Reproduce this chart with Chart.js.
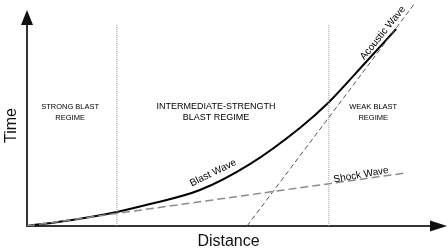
<!DOCTYPE html>
<html>
<head>
<meta charset="utf-8">
<script src="https://cdn.jsdelivr.net/npm/chart.js@4"></script>
<style>
  html, body { margin: 0; padding: 0; background: #fff; }
  #grafico { display: block; }
</style>
</head>
<body>
<canvas id="grafico" width="448" height="252"></canvas>
<script>
// dados (distancia 0-100, tempo 0-100)
var regimes = [["STRONG BLAST", "REGIME"], ["INTERMEDIATE-STRENGTH", "BLAST REGIME"], ["WEAK BLAST", "REGIME"]];
var limitesRegime = [22.3, 74.9];
var limiteTopo = 100;

var blastDistancia = [0, 11.2, 22.3, 30.5, 42.9, 55.3, 67.7, 74.7, 83.9, 91.6];
var blastTempo = [0, 3.0, 7.0, 10.9, 17.9, 30.8, 48.8, 61.2, 81.1, 98.0];

var shockDistancia = [0, 94.0];
var shockTempo = [0, 26.4];

var acousticDistancia = [54.6, 96.3];
var acousticTempo = [0, 111];

var nomesOndas = ["Blast Wave", "Shock Wave", "Acoustic Wave"];

function juntar(xs, ys) {
  var pontos = [];
  for (var i = 0; i < xs.length; i++) {
    pontos.push({ x: xs[i], y: ys[i] });
  }
  return pontos;
}

var fonte = "'Liberation Sans', Arial, sans-serif";

var datasets = [];
for (var i = 0; i < limitesRegime.length; i++) {
  datasets.push({
    data: juntar([limitesRegime[i], limitesRegime[i]], [0, limiteTopo]),
    borderColor: "#999999",
    borderWidth: 1,
    borderDash: [1, 1],
    pointRadius: 0
  });
}
datasets.push({
  label: nomesOndas[1],
  data: juntar(shockDistancia, shockTempo),
  borderColor: "#8c8c8c",
  borderWidth: 1.5,
  borderDash: [8, 4],
  pointRadius: 0
});
datasets.push({
  label: nomesOndas[2],
  data: juntar(acousticDistancia, acousticTempo),
  borderColor: "#555555",
  borderWidth: 1,
  borderDash: [5, 3],
  pointRadius: 0,
  clip: false
});
datasets.push({
  label: nomesOndas[0],
  data: juntar(blastDistancia, blastTempo),
  borderColor: "#000000",
  borderWidth: 2,
  cubicInterpolationMode: "monotone",
  pointRadius: 0
});

// setas dos eixos e textos da figura
var pluginTextos = {
  id: "textos",
  afterDraw: function (chart) {
    var ctx = chart.ctx;
    var a = chart.chartArea;
    var sx = chart.scales.x;
    var sy = chart.scales.y;

    ctx.save();
    ctx.fillStyle = "#111";
    ctx.beginPath();
    ctx.moveTo(a.right, a.bottom - 5.5);
    ctx.lineTo(a.right + 17, a.bottom);
    ctx.lineTo(a.right, a.bottom + 5.5);
    ctx.closePath();
    ctx.fill();
    ctx.beginPath();
    ctx.moveTo(a.left - 6, a.top);
    ctx.lineTo(a.left, a.top - 15);
    ctx.lineTo(a.left + 6, a.top);
    ctx.closePath();
    ctx.fill();

    // regimes
    var centros = [10.7, 46.9, 85.9];
    var tamanhos = [7.5, 9, 7.5];
    ctx.fillStyle = "#000";
    ctx.textAlign = "center";
    ctx.textBaseline = "middle";
    for (var i = 0; i < regimes.length; i++) {
      ctx.font = tamanhos[i] + "px " + fonte;
      var px = sx.getPixelForValue(centros[i]);
      var py = sy.getPixelForValue(56.5);
      ctx.fillText(regimes[i][0], px, py - 5.5);
      ctx.fillText(regimes[i][1], px, py + 5.5);
    }

    // nomes das ondas
    var posicoes = [
      { x: 46.2, y: 26.4, ang: -26 },
      { x: 82.9, y: 25.4, ang: -10 },
      { x: 88.3, y: 96.0, ang: -51 }
    ];
    ctx.font = "10px " + fonte;
    for (var j = 0; j < nomesOndas.length; j++) {
      ctx.save();
      ctx.translate(sx.getPixelForValue(posicoes[j].x), sy.getPixelForValue(posicoes[j].y));
      ctx.rotate(posicoes[j].ang * Math.PI / 180);
      ctx.fillText(nomesOndas[j], 0, 0);
      ctx.restore();
    }
    ctx.restore();
  }
};

var grafico = new Chart(document.getElementById("grafico").getContext("2d"), {
  type: "line",
  data: { datasets: datasets },
  options: {
    responsive: false,
    animation: false,
    devicePixelRatio: 1,
    layout: { padding: { left: 0, right: 18, top: 25, bottom: 0 } },
    plugins: { legend: { display: false }, tooltip: { enabled: false } },
    scales: {
      x: {
        type: "linear",
        min: 0,
        max: 100,
        grid: { display: false, drawTicks: false },
        ticks: { display: false },
        border: { display: true, color: "#333", width: 2 },
        title: { display: true, text: "Distance", color: "#111", font: { size: 16, family: fonte }, padding: { top: 5.8, bottom: 1 } }
      },
      y: {
        type: "linear",
        min: 0,
        max: 100,
        grid: { display: false, drawTicks: false },
        ticks: { display: false },
        border: { display: true, color: "#333", width: 2 },
        title: { display: true, text: "Time", color: "#111", font: { size: 16, family: fonte }, padding: { top: 2, bottom: 5.8 } }
      }
    }
  },
  plugins: [pluginTextos]
});
</script>
</body>
</html>
